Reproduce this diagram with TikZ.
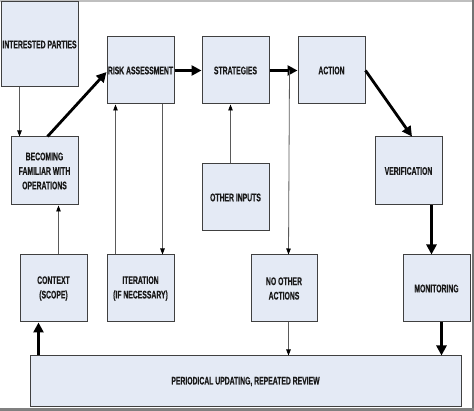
\documentclass[tikz,border=0pt]{standalone}
\usepackage{fontspec}
\newfontfamily\lab{Liberation Sans}[FakeStretch=0.62,FakeBold=0.4]
\usetikzlibrary{arrows.meta,calc}
\definecolor{boxfill}{RGB}{228,234,245}
\definecolor{boxline}{RGB}{64,64,64}
\definecolor{thinline}{RGB}{90,90,90}
\tikzset{
  box/.style={draw=boxline, fill=boxfill, line width=1pt, align=center, inner sep=0pt,
    font=\lab\bfseries\fontsize{11}{14.5}\selectfont, text=black!90},
  bigarrow/.style={line width=2.8pt, -{Triangle[length=10pt,width=10pt]}},
  thinarrow/.style={draw=thinline, line width=0.8pt, -{Triangle[length=6pt,width=4.5pt,fill=black,color=black]}},
  thinline/.style={draw=thinline, line width=0.8pt}
}
\begin{document}
\begin{tikzpicture}[x=1pt,y=-1pt]
\useasboundingbox (0,0) rectangle (474,411);
% frame
\draw[line width=2pt, draw=black!25] (0,1) -- (474,1);
\draw[line width=2.5pt, draw=black!55] (472.75,0) -- (472.75,411);
\draw[line width=3pt, draw=black!50] (0,409.5) -- (474,409.5);
% boxes
\node[box, minimum width=77pt, minimum height=85pt] (ip) at (39.5,44.5) {INTERESTED PARTIES};
\node[box, minimum width=67pt, minimum height=68pt] (bf) at (44.5,171) {BECOMING\\FAMILIAR WITH\\OPERATIONS};
\node[box, minimum width=67pt, minimum height=67pt] (ra) at (140.5,70.5) {RISK ASSESSMENT};
\node[box, minimum width=67pt, minimum height=67pt] (st) at (235.5,70.5) {STRATEGIES};
\node[box, minimum width=67pt, minimum height=67pt] (ac) at (331.5,70.5) {ACTION};
\node[box, minimum width=67pt, minimum height=67pt] (oi) at (235.5,197.5) {OTHER INPUTS};
\node[box, minimum width=67pt, minimum height=68pt] (ve) at (408.5,171) {VERIFICATION};
\node[box, minimum width=67pt, minimum height=67pt] (cx) at (53.5,288.5) {CONTEXT\\(SCOPE)};
\node[box, minimum width=67pt, minimum height=67pt] (it) at (140.5,288.5) {ITERATION\\(IF NECESSARY)};
\node[box, minimum width=66pt, minimum height=67pt] (no) at (284,288.5) {NO OTHER\\ACTIONS};
\node[box, minimum width=67pt, minimum height=67pt] (mo) at (436.5,288.5) {MONITORING};
\node[box, minimum width=431pt, minimum height=51pt] (pe) at (245.5,381.5) {PERIODICAL UPDATING, REPEATED REVIEW};
% thick arrows
\draw[bigarrow] ($(bf.north west)+(37,0)$) -- ($(ra.west)+(0,1.5)$);
\draw[bigarrow] (ra.east) -- (st.west);
\draw[bigarrow] (st.east) -- (ac.west);
\draw[bigarrow] (ac.east) -- ($(ve.north)+(3.5,0)$);
\draw[bigarrow] ($(ve.south west)+(57,0)$) -- ($(mo.north west)+(29,0)$);
\draw[bigarrow] ($(mo.south west)+(39,0)$) -- ($(pe.north west)+(412,0)$);
\draw[bigarrow] ($(pe.north west)+(9,0)$) -- ($(cx.south west)+(19,0)$);
% thin arrows
\draw[thinarrow] ($(ip.south west)+(19,0)$) -- ($(bf.north west)+(9,0)$);
\draw[thinarrow] ($(cx.north west)+(39,0)$) -- ($(bf.south west)+(48,0)$);
\draw[thinarrow] ($(it.north west)+(9,0)$) -- ($(ra.south west)+(9,0)$);
\draw[thinarrow] ($(ra.south west)+(56,0)$) -- ($(it.north west)+(56,0)$);
\draw[thinarrow] ($(oi.north west)+(29,0)$) -- ($(st.south west)+(29,0)$);
\coordinate (br) at ($(st.east)+(20,0)$);
\draw[thinarrow] (br) -- ($(no.north west)+(38,0)$);
\draw[thinarrow] ($(no.south west)+(38,0)$) -- ($(pe.north west)+(259,0)$);
\end{tikzpicture}
\end{document}
